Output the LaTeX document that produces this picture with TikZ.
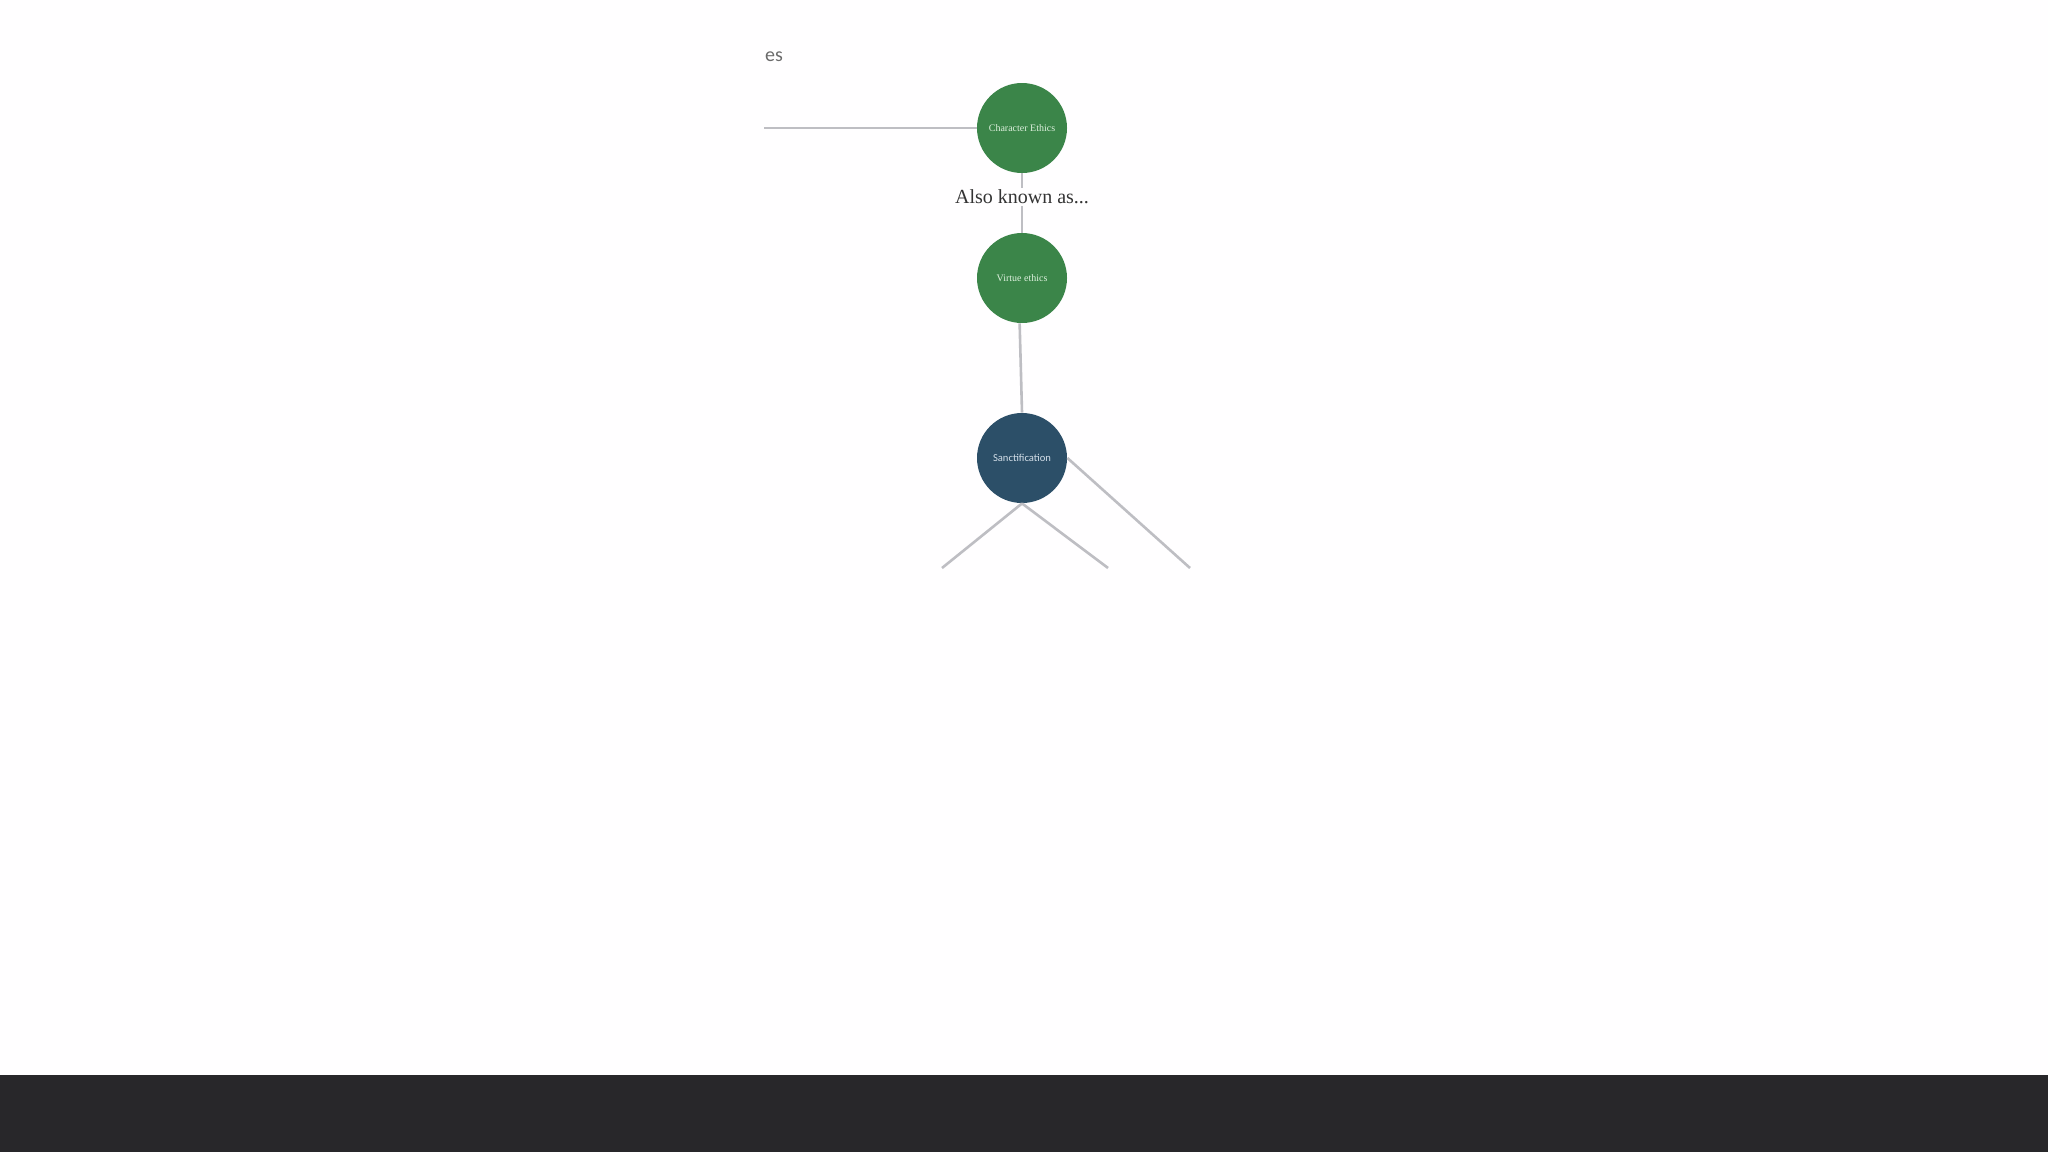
\documentclass[tikz,border=0pt]{standalone}
\usepackage{fontspec}
\setmainfont{Liberation Serif}
\newfontfamily\calfont{Carlito}
\usepackage{xcolor}
\usepackage{tikz}
\usetikzlibrary{calc}
\definecolor{pagebg}{HTML}{FFFEFF}
\definecolor{barbg}{HTML}{28272A}
\definecolor{ethgreen}{HTML}{3B8549}
\definecolor{sancblue}{HTML}{2C4F68}
\definecolor{linkgray}{HTML}{BEBEC3}
\definecolor{palegreen}{HTML}{DDF0DD}
\definecolor{paleblue}{HTML}{D3DEE8}
\tikzstyle{topic}=[circle,minimum size=45pt,inner sep=0pt,align=center]
\tikzstyle{ethic}=[topic,fill=ethgreen,text=palegreen,font=\fontsize{5}{6}\selectfont]
\tikzstyle{sanc} =[topic,fill=sancblue,text=paleblue,font=\calfont\fontsize{5.3}{6}\selectfont]
\tikzstyle{link} =[line width=1.3pt,draw=linkgray]

\begin{document}
\begin{tikzpicture}[x=0.5pt,y=-0.5pt]
	\fill[pagebg] (0,0) rectangle (2048,1152);
	\useasboundingbox (0,0) rectangle (2048,1152);
	\fill[barbg] (0,1075) rectangle (2048,1152);
	\node[anchor=west,text=black!58,font=\calfont\fontsize{10}{12}\selectfont] (es) at (758,57) {es};
	\node[ethic] (C) at (1022,128) {Character Ethics};
	\node[ethic] (V) at (1022,278) {Virtue ethics};
	\node[sanc]  (S) at (1022,458) {Sanctification};
	\coordinate (E) at (764,128);
	\coordinate (L) at (942,568);
	\coordinate (M) at (1108,568);
	\coordinate (R) at (1190,568);
	\draw[link] (E) -- (C);
	\draw[link] (C) --node[pos=.4,fill=pagebg,inner sep=1pt,text=black!80,font=\fontsize{10}{12}\selectfont] (aka) {Also known as...} (V);
	\draw[link] (V.-93) -- (S.north);
	\draw[link] (S.south) -- (L);
	\draw[link] (S.south) -- (M);
	\draw[link] (S.east) -- (R);
\end{tikzpicture}
\end{document}
